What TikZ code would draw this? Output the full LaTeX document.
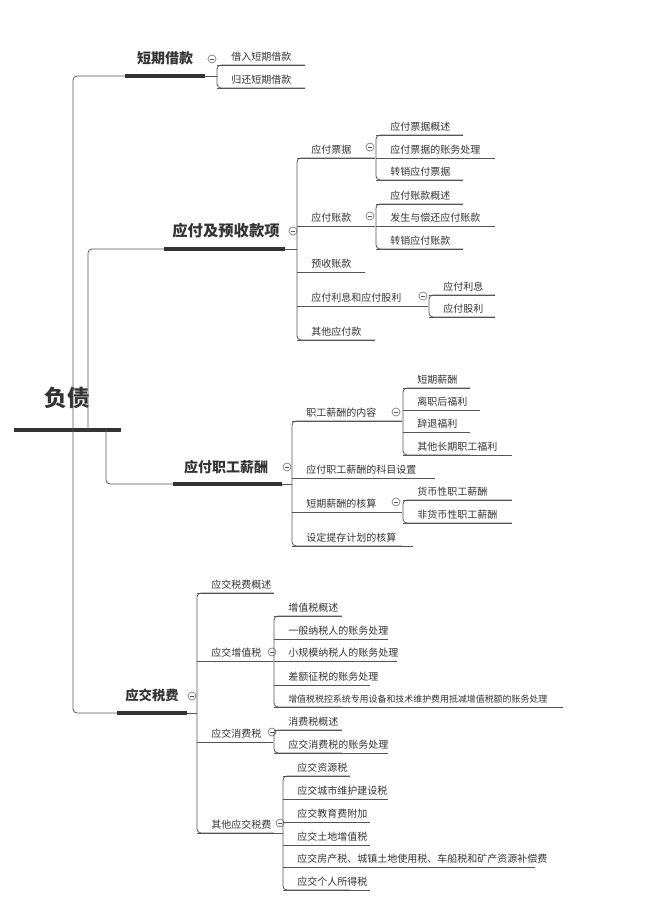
\documentclass[tikz,border=0pt]{standalone}
\usepackage{fontspec}
\setmainfont{Noto Sans CJK SC}
\definecolor{tx}{HTML}{333333}
\definecolor{ln}{HTML}{555555}
\tikzset{
 leaf/.style={font=\fontsize{7.5}{9}\selectfont,text=tx,inner sep=0pt,anchor=south west},
 ul/.style={draw=ln,line width=0.6pt},
 thick ul/.style={draw=tx,line width=2.4pt},
 br/.style={draw=ln,line width=0.6pt,rounded corners=3pt},
 tog/.style={circle,draw=ln!80,line width=0.5pt,minimum size=6pt,inner sep=0pt,
   path picture={\draw[ln,line width=0.4pt] ([xshift=-1.5pt]path picture bounding box.center) -- ([xshift=1.5pt]path picture bounding box.center);}},
 main/.style={font=\bfseries,text=tx,inner sep=0pt}
}
\newcommand{\lf}[5]{\node[leaf] (#1) at (#2+14,#4-3) {#5};\draw[ul] (#2,#4) -- (#3,#4);}
\newcommand{\brk}[5]{\draw[br] (#3,#4) -- (#2,#4) -- (#2,#5) -- (#3,#5);}
\begin{document}
\begin{tikzpicture}[x=0.75pt,y=-0.75pt]
\useasboundingbox (0,0) rectangle (663,906);
% root
\node[main,font=\fontsize{17}{18}\selectfont\bfseries] (root) at (67,398) {负债};
\draw[thick ul] (14,430) -- (121,430);
\draw[br] (125,76) -- (73,76) -- (73,713) -- (117,713);
\draw[br] (88,430) -- (88,249) -- (164,249);
\draw[br] (106,430) -- (106,484) -- (173,484);
% 短期借款
\node[main,font=\fontsize{10.5}{12}\selectfont\bfseries] (dq) at (165,58) {短期借款};
\draw[thick ul] (125,76) -- (205,76); \draw[ul] (205,76) -- (217,76);
\node[tog] (t1) at (212,59) {};
\brk{x}{217}{305}{65}{88}
\lf{a1}{217}{305}{65}{借入短期借款}
\lf{a2}{217}{305}{88}{归还短期借款}
% 应付及预收款项
\node[main,font=\fontsize{11.5}{13}\selectfont\bfseries] (yf) at (226,231) {应付及预收款项};
\draw[thick ul] (164,249) -- (285,249); \draw[ul] (285,249) -- (297,249);
\node[tog] at (293,231) {};
\brk{x}{297}{375}{158}{340}
\lf{b1}{297}{375}{158}{应付票据}
\lf{b2}{297}{375}{226}{应付账款}
\lf{b3}{297}{365}{272}{预收账款}
\lf{b4}{297}{428}{306}{应付利息和应付股利}
\lf{b5}{297}{375}{340}{其他应付款}
\node[tog] at (370,147) {};
\node[tog] at (370,216) {};
\node[tog] at (423,296) {};
\brk{x}{376}{463}{135}{180}
\lf{c1}{376}{463}{135}{应付票据概述}
\lf{c2}{376}{495}{158}{应付票据的账务处理}
\lf{c3}{376}{463}{180}{转销应付票据}
\brk{x}{376}{463}{204}{249}
\lf{c4}{376}{463}{204}{应付账款概述}
\lf{c5}{376}{495}{226}{发生与偿还应付账款}
\lf{c6}{376}{463}{249}{转销应付账款}
\brk{x}{429}{495}{295}{317}
\lf{c7}{429}{495}{295}{应付利息}
\lf{c8}{429}{495}{317}{应付股利}
% 应付职工薪酬
\node[main,font=\fontsize{10.5}{12}\selectfont\bfseries] (zg) at (226,467) {应付职工薪酬};
\draw[thick ul] (173,484) -- (282,484); \draw[ul] (282,484) -- (292,484);
\node[tog] at (287,467) {};
\brk{x}{292}{402}{421}{546}
\lf{d1}{292}{402}{421}{职工薪酬的内容}
\lf{d2}{292}{435}{478}{应付职工薪酬的科目设置}
\lf{d3}{292}{402}{512}{短期薪酬的核算}
\lf{d4}{292}{413}{546}{设定提存计划的核算}
\node[tog] at (396,412) {};
\node[tog] at (396,502) {};
\brk{x}{403}{470}{388}{455}
\lf{e1}{403}{470}{388}{短期薪酬}
\lf{e2}{403}{480}{410}{离职后福利}
\lf{e3}{403}{470}{432}{辞退福利}
\lf{e4}{403}{512}{455}{其他长期职工福利}
\brk{x}{403}{512}{500}{523}
\lf{e5}{403}{512}{500}{货币性职工薪酬}
\lf{e6}{403}{512}{523}{非货币性职工薪酬}
% 应交税费
\node[main,font=\fontsize{10}{12}\selectfont\bfseries] (sf) at (152,695) {应交税费};
\draw[thick ul] (117,713) -- (187,713); \draw[ul] (187,713) -- (197,713);
\node[tog] at (192,696) {};
\brk{x}{197}{274}{593}{833}
\lf{f1}{197}{274}{593}{应交税费概述}
\lf{f2}{197}{273}{661}{应交增值税}
\lf{f3}{197}{273}{742}{应交消费税}
\lf{f4}{197}{283}{833}{其他应交税费}
\node[tog] at (272,652) {};
\node[tog] at (272,732) {};
\node[tog] at (280,823) {};
\brk{x}{274}{342}{616}{707}
\lf{g1}{274}{342}{616}{增值税概述}
\lf{g2}{274}{388}{639}{一般纳税人的账务处理}
\lf{g3}{274}{397}{661}{小规模纳税人的账务处理}
\lf{g4}{274}{370}{685}{差额征税的账务处理}
\draw[ul] (274,707) -- (563,707);
\node[leaf,font=\fontsize{6.7}{8}\selectfont] (g5) at (288,704) {增值税税控系统专用设备和技术维护费用抵减增值税额的账务处理};
\brk{x}{274}{342}{730}{753}
\lf{h1}{274}{342}{730}{消费税概述}
\lf{h2}{274}{388}{753}{应交消费税的账务处理}
\brk{x}{283}{350}{776}{890}
\lf{i1}{283}{350}{776}{应交资源税}
\lf{i2}{283}{388}{799}{应交城市维护建设税}
\lf{i3}{283}{370}{822}{应交教育费附加}
\lf{i4}{283}{370}{845}{应交土地增值税}
\lf{i5}{283}{535}{867}{应交房产税、城镇土地使用税、车船税和矿产资源补偿费}
\lf{i6}{283}{370}{890}{应交个人所得税}
\end{tikzpicture}
\end{document}
